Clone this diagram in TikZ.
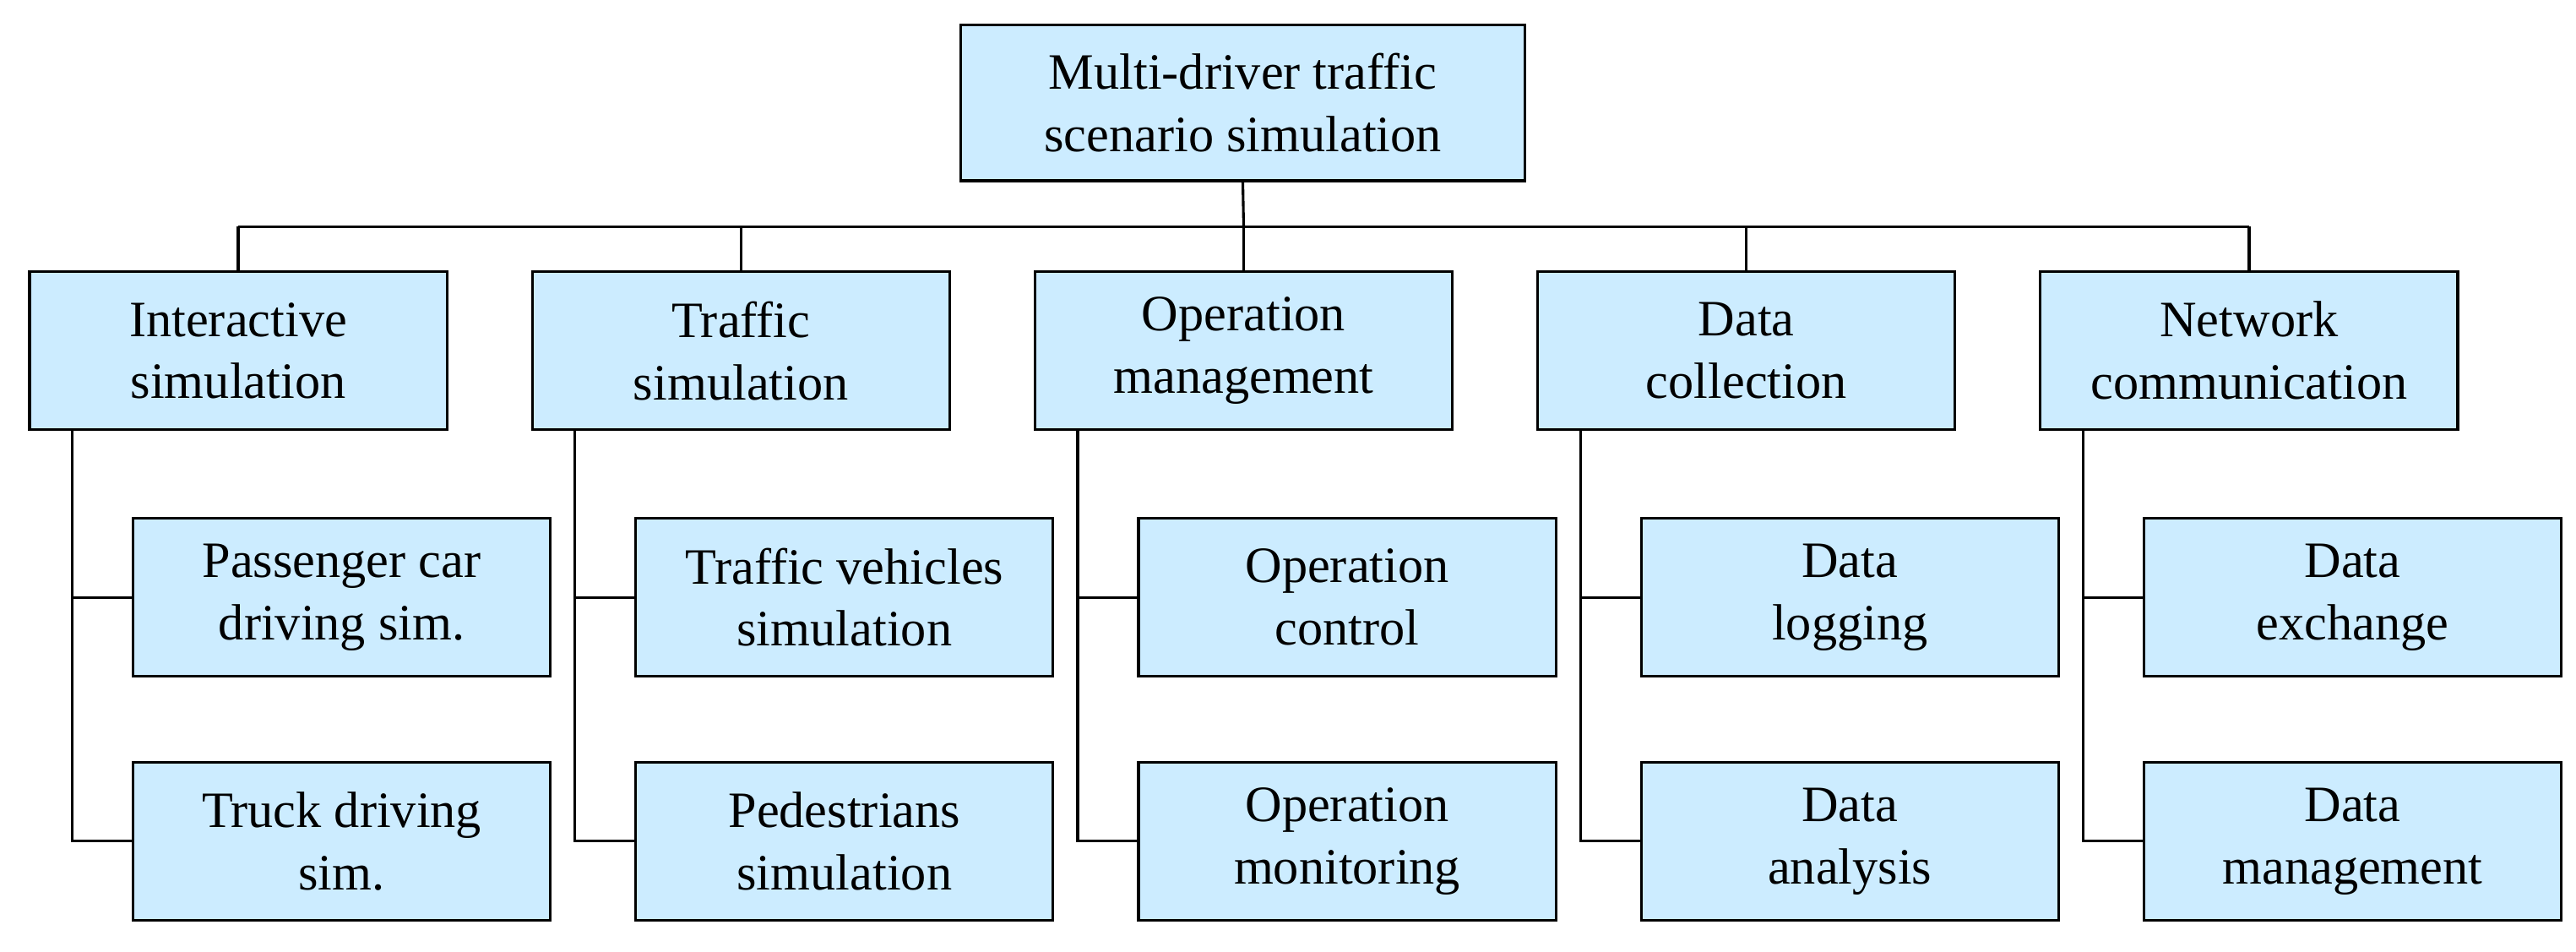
\documentclass[tikz,border=0pt]{standalone}
\usepackage{fontspec}
\setmainfont{Liberation Serif}
\definecolor{boxfill}{RGB}{204,236,255}
\begin{document}
\begin{tikzpicture}[x=1pt,y=-1pt,
  box/.style={draw=black,line width=1.6pt,fill=boxfill,minimum width=254pt,minimum height=96pt,align=center,font=\fontsize{31}{38}\selectfont,inner sep=0pt},
  conn/.style={line width=1.6pt}]
\useasboundingbox (0,0) rectangle (1568,579);
\node[box,minimum width=343pt,minimum height=95pt] (top) at (756.5,62.5) {Multi-driver traffic\\scenario simulation};
\coordinate (bus) at (757,138);
\foreach \i/\name/\txt/\a/\b in {
  0/int/{Interactive\\simulation}/{Passenger car\\driving sim.}/{Truck driving\\sim.},
  1/tra/{Traffic\\simulation}/{Traffic vehicles\\simulation}/{Pedestrians\\simulation},
  2/ope/{Operation\\management}/{Operation\\control}/{Operation\\monitoring},
  3/dat/{Data\\collection}/{Data\\logging}/{Data\\analysis},
  4/net/{Network\\communication}/{Data\\exchange}/{Data\\management}} {
  \pgfmathsetmacro{\cx}{145+306*\i}
  \pgfmathsetmacro{\tx}{44+306*\i}
  \pgfmathsetmacro{\kx}{208+306*\i}
  \node[box] (\name) at (\cx,213.5) {\txt};
  \node[box] (\name1) at (\kx,363.5) {\a};
  \node[box] (\name2) at (\kx,512) {\b};
  \coordinate (\name t) at (\tx,262);
  \coordinate (\name b) at (\cx,138);
  \draw[conn] (\name b) -- (\name.north);
  \draw[conn] (\name t) |- (\name2.west);
  \draw[conn] (\name t |- \name1.west) -- (\name1.west);
}
\draw[conn] (top.south) -- (bus);
\draw[conn] (intb) -- (netb);
\end{tikzpicture}
\end{document}
